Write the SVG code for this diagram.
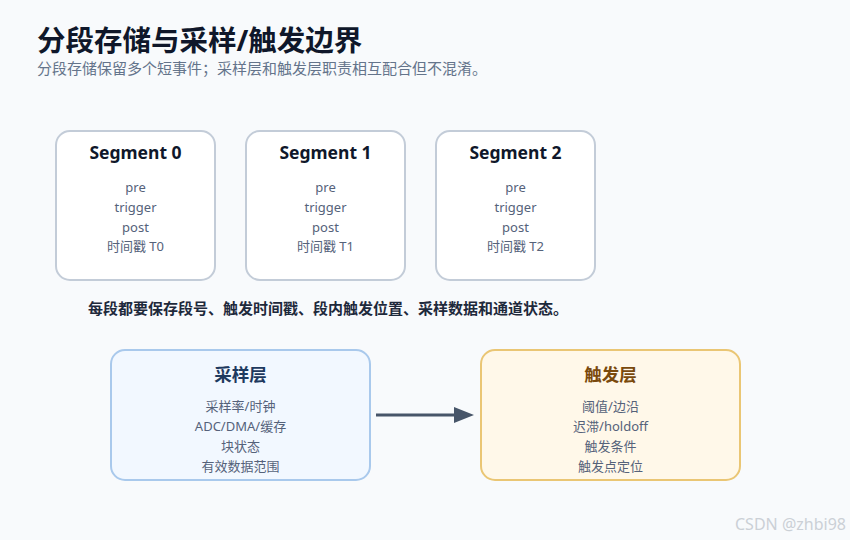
<svg xmlns="http://www.w3.org/2000/svg" width="850" height="540" viewBox="0 0 850 540">
<style>
text{font-family:"Noto Sans","Noto Sans CJK SC",sans-serif}
.seg rect{fill:#ffffff;stroke:#c3ccd8;stroke-width:2}
.st{font-size:17.5px;font-weight:700;fill:#0f172a;text-anchor:middle}
.ln{font-size:13px;fill:#55627a;text-anchor:middle}
.lt{font-size:17.5px;font-weight:700;text-anchor:middle}
</style>
<rect width="850" height="540" fill="#f8fafc"/>
<text x="37" y="51" font-size="28.5" font-weight="700" fill="#0f172a">分段存储与采样/触发边界</text>
<text x="37" y="74" font-size="15" fill="#64748b">分段存储保留多个短事件；采样层和触发层职责相互配合但不混淆。</text>
<g id="seg0" class="seg">
<rect x="56" y="131" width="159" height="149" rx="14"/>
<text class="st" x="135.5" y="159">Segment 0</text>
<text class="ln" x="135.5" y="192">pre</text>
<text class="ln" x="135.5" y="212">trigger</text>
<text class="ln" x="135.5" y="232">post</text>
<text class="ln" x="135.5" y="251">时间戳 T0</text>
</g>
<g id="seg1" class="seg">
<rect x="246" y="131" width="159" height="149" rx="14"/>
<text class="st" x="325.5" y="159">Segment 1</text>
<text class="ln" x="325.5" y="192">pre</text>
<text class="ln" x="325.5" y="212">trigger</text>
<text class="ln" x="325.5" y="232">post</text>
<text class="ln" x="325.5" y="251">时间戳 T1</text>
</g>
<g id="seg2" class="seg">
<rect x="436" y="131" width="159" height="149" rx="14"/>
<text class="st" x="515.5" y="159">Segment 2</text>
<text class="ln" x="515.5" y="192">pre</text>
<text class="ln" x="515.5" y="212">trigger</text>
<text class="ln" x="515.5" y="232">post</text>
<text class="ln" x="515.5" y="251">时间戳 T2</text>
</g>
<text x="88" y="314" font-size="15" font-weight="700" fill="#1e293b">每段都要保存段号、触发时间戳、段内触发位置、采样数据和通道状态。</text>
<g id="sampling">
<rect x="111" y="350" width="259" height="130" rx="14" fill="#f2f8ff" stroke="#a9c9ec" stroke-width="2"/>
<text class="lt" x="240.5" y="381" fill="#1e3a5f">采样层</text>
<text class="ln" x="240.5" y="411">采样率/时钟</text>
<text class="ln" x="240.5" y="431">ADC/DMA/缓存</text>
<text class="ln" x="240.5" y="451">块状态</text>
<text class="ln" x="240.5" y="471">有效数据范围</text>
</g>
<g id="trigger">
<rect x="481" y="350" width="259" height="130" rx="14" fill="#fff8e9" stroke="#eac674" stroke-width="2"/>
<text class="lt" x="610.5" y="381" fill="#7a4a0c">触发层</text>
<text class="ln" x="610.5" y="411">阈值/边沿</text>
<text class="ln" x="610.5" y="431">迟滞/holdoff</text>
<text class="ln" x="610.5" y="451">触发条件</text>
<text class="ln" x="610.5" y="471">触发点定位</text>
</g>
<g id="connectors">
<line x1="376" y1="415" x2="456" y2="415" stroke="#475569" stroke-width="3"/>
<path d="M454,407 L474,415 L454,423 Z" fill="#475569"/>
</g>
<text x="735" y="530" font-size="16" fill="#cbd0d6">CSDN @zhbi98</text>
</svg>
